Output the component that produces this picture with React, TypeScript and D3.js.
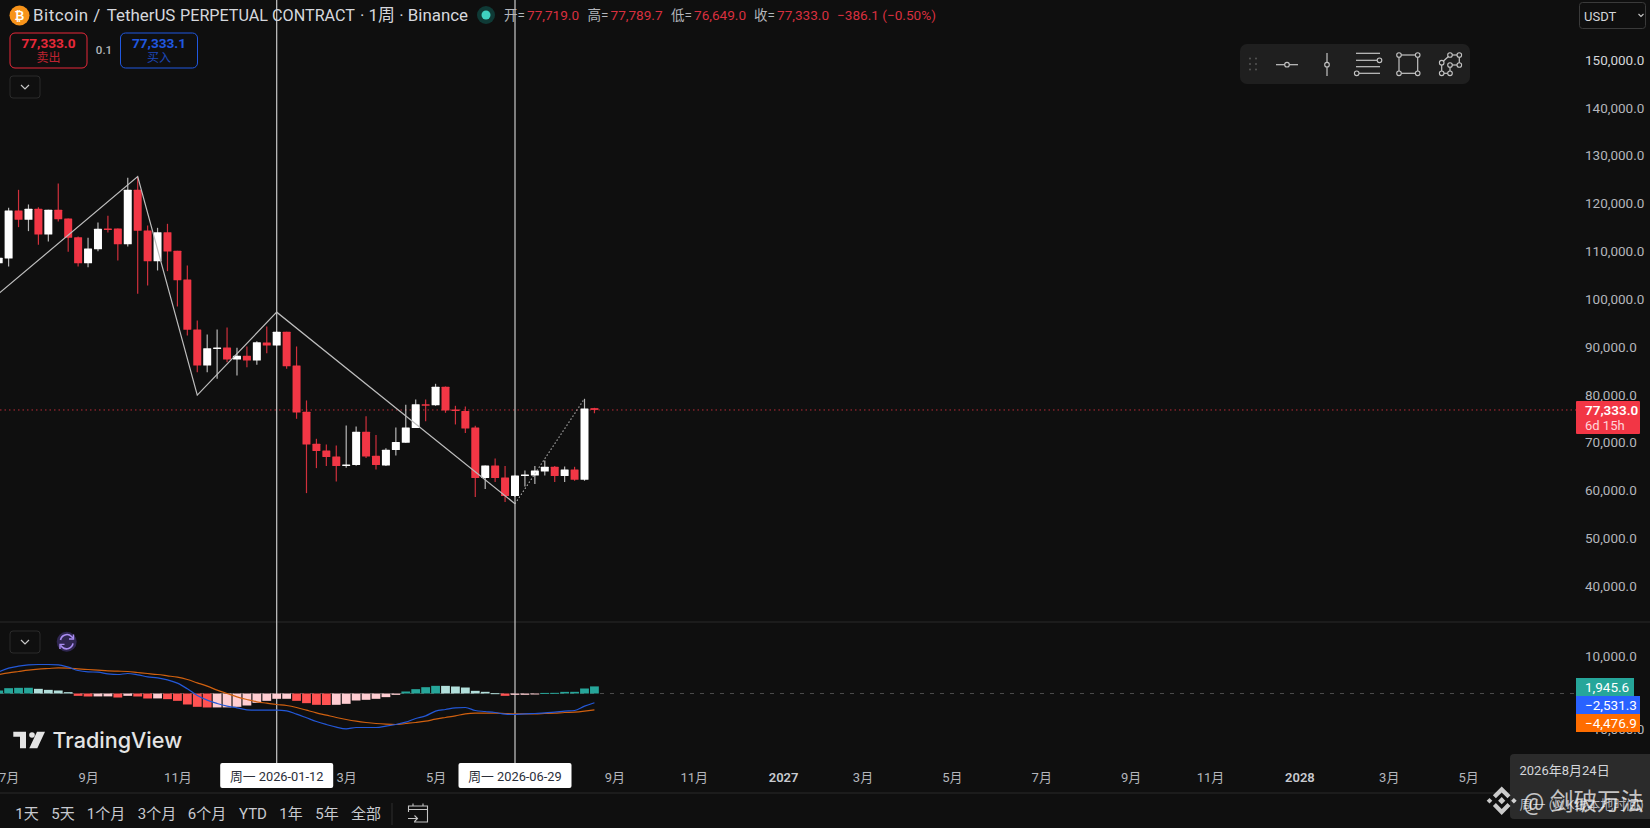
import * as d3 from 'd3'
import { useEffect, useRef } from 'react'

const firstWeek = '2025-06-30'

const opens = [108041, 109016, 119053, 117101, 119401, 114035, 119192, 117380, 113477, 108041, 110968, 115289, 115289, 112013, 123374, 114871, 108459, 114522, 110620, 104625, 94171, 86643, 90198, 90407, 87898, 88664, 87688, 91452, 90824, 93682, 86642, 76954, 70263, 68869, 67614, 65593, 65802, 72772, 67754, 65732, 68939, 70472, 73539, 78557, 78348, 82182, 77442, 77094, 73678, 63084, 65732, 63223, 59320, 63642, 63642, 64478, 65454, 63503, 64896, 62735, 77719]
const highs = [109900, 119611, 123374, 120308, 119750, 119192, 124699, 117380, 113616, 113338, 116544, 117938, 115289, 125884, 126100, 115916, 115429, 116265, 110620, 107553, 96052, 93125, 94171, 94589, 90337, 90616, 91731, 94798, 93752, 93682, 90615, 79324, 71308, 70124, 69914, 74097, 73887, 76048, 72075, 69354, 73678, 78418, 79533, 79533, 82809, 82251, 78209, 78069, 74027, 65732, 67196, 65593, 63642, 64687, 65593, 66778, 65593, 65523, 65454, 79673, 77789.7]
const lows = [107500, 107343, 115568, 114732, 111874, 112571, 116753, 110410, 107343, 107204, 110550, 114453, 108598, 111525, 101628, 103370, 106507, 106367, 98979, 92916, 85249, 85249, 83855, 87340, 84552, 86294, 86782, 89222, 90824, 85945, 75490, 59947, 65175, 65593, 62387, 65245, 65663, 67266, 64896, 65593, 67823, 70472, 73539, 74993, 78209, 76745, 74306, 72493, 59111, 60784, 62247, 58066, 59111, 61341, 61829, 63642, 62247, 62247, 62526, 62526, 76649]
const closes = [109156, 119053, 117101, 119401, 114035, 119192, 117241, 113338, 108041, 111107, 115219, 115010, 112013, 123374, 114801, 108459, 114522, 110480, 104486, 94100, 86643, 90267, 90407, 87898, 88664, 87688, 91522, 90825, 93682, 86503, 76815, 70124, 68730, 67475, 65593, 65942, 72772, 67614, 65802, 69008, 70612, 73678, 78557, 78348, 82182, 77233, 77094, 73469, 63084, 65732, 63084, 59320, 63642, 63851, 64687, 65454, 63503, 64896, 62735, 77651, 77333]

const histogram = [820, 1460, 1550, 1570, 1280, 1000, 820, 370, -640, -820, -800, -790, -1100, -640, -820, -1370, -1350, -1550, -2010, -3010, -3650, -3830, -3820, -3810, -3650, -3290, -2560, -2010, -1460, -1450, -2010, -2650, -3100, -3150, -3100, -2830, -1920, -1730, -1460, -1000, -370, 550, 1190, 1730, 2100, 2090, 1920, 1640, 730, 460, 90, -640, -370, -360, -90, 160, 180, 450, 460, 1370, 1945.6]
const macdLine = [5935, 6940, 7490, 7850, 7940, 7940, 7850, 7210, 6300, 5935, 5840, 5390, 5200, 5480, 5110, 4565, 4290, 3740, 2830, 1280, -550, -1830, -2740, -3470, -3930, -4470, -4570, -4570, -4570, -4750, -5660, -6660, -7670, -8490, -9220, -9680, -9310, -9310, -9310, -8950, -8490, -7850, -6850, -6120, -4840, -4380, -3930, -3830, -4660, -4930, -5200, -5660, -5750, -5570, -5480, -5300, -5110, -4840, -4660, -3470, -2531.3]
const signalLine = [5200, 5660, 6030, 6390, 6660, 6850, 7030, 6940, 6760, 6570, 6390, 6210, 6120, 6030, 5750, 5480, 5200, 4840, 4470, 3830, 2920, 2010, 910, 0, -910, -1640, -2280, -2650, -3010, -3290, -3830, -4570, -5300, -5930, -6570, -7120, -7580, -7940, -8220, -8400, -8490, -8220, -7940, -7580, -7030, -6570, -6120, -5570, -5390, -5390, -5390, -5480, -5570, -5570, -5570, -5480, -5390, -5200, -5110, -4840, -4476.9]

const priceTicks = [150000, 140000, 130000, 120000, 110000, 100000, 90000, 80000, 70000, 60000, 50000, 40000]
const macdTicks = [10000, -10000]

const timeTicks = ['2025-07-07', '2025-09-01', '2025-11-03', '2026-03-02', '2026-05-04', '2026-09-07', '2026-11-02', '2027-01-04', '2027-03-01', '2027-05-03', '2027-07-05', '2027-09-06', '2027-11-01', '2028-01-03', '2028-03-06', '2028-05-01']
const timeLabels = ['7月', '9月', '11月', '3月', '5月', '9月', '11月', '2027', '3月', '5月', '7月', '9月', '11月', '2028', '3月', '5月']

const zigzagDates = ['2025-06-23', '2025-10-06', '2025-11-17', '2026-01-12', '2026-06-29']
const zigzagPrices = [99900, 126160, 80450, 97790, 57720]
const dottedDates = ['2026-06-29', '2026-08-17']
const dottedPrices = [57720, 79700]

const crosshairDates = ['2026-01-12', '2026-06-29']
const crosshairLabels = ['周一 2026-01-12', '周一 2026-06-29']

const ohlcNames = ['开=', '高=', '低=', '收=']
const ohlcValues = ['77,719.0', '77,789.7', '76,649.0', '77,333.0']
const rangeButtons = ['1天', '5天', '1个月', '3个月', '6个月', 'YTD', '1年', '5年', '全部']

const font = 'Roboto, "Noto Sans CJK SC", sans-serif'
const bg = '#0f0f0f'
const red = '#f23645'

export default function App() {
    const svgRef = useRef<SVGSVGElement>(null)

    useEffect(() => {
        makeChart()
    }, [])

    function makeChart() {
        const width = 1650
        const height = 828
        const parse = d3.utcParse('%Y-%m-%d')

        const svg = d3.select(svgRef.current)
            .attr('width', width).attr('height', height)
            .style('position', 'fixed').style('left', 0).style('top', 0)
            .style('background', bg).style('font-family', font)
        svg.selectAll('*').remove()

        const x = d3.scaleUtc()
            .domain([parse('2026-01-12')!, parse('2026-06-29')!])
            .range([276.7, 515])
        const y = d3.scaleLinear().domain([40000, 150000]).range([588.5, 62.5])
        const yMacd = d3.scaleLinear().domain([-10000, 10000]).range([730, 657])
        const weeks = closes.map((_, i) => d3.utcWeek.offset(parse(firstWeek)!, i))
        const barX = (i: number) => x(weeks[i])

        const text = (px: number, py: number, s: string, size: number, fill: string, weight = 400, anchor = 'start') =>
            svg.append('text').attr('x', px).attr('y', py).attr('dy', '0.35em')
                .attr('font-size', size).attr('fill', fill).attr('font-weight', weight)
                .attr('text-anchor', anchor).text(s)

        // pane separators
        svg.append('line').attr('x1', 0).attr('x2', width).attr('y1', 622).attr('y2', 622).attr('stroke', '#2a2a2a')
        svg.append('line').attr('x1', 0).attr('x2', width).attr('y1', 793).attr('y2', 793).attr('stroke', '#2a2a2a')

        // last price line
        svg.append('line').attr('x1', 0).attr('x2', 1576).attr('y1', y(77333)).attr('y2', y(77333))
            .attr('stroke', red).attr('stroke-width', 1).attr('stroke-dasharray', '1.5 3').attr('opacity', 0.75)

        // zero line of the macd pane
        svg.append('line').attr('x1', 0).attr('x2', 1576).attr('y1', yMacd(0)).attr('y2', yMacd(0))
            .attr('stroke', '#4a4a4a').attr('stroke-dasharray', '4 6')

        // crosshair lines
        const crossX = crosshairDates.map(d => x(parse(d)!))
        svg.append('g').selectAll('line').data(crossX).enter().append('line')
            .attr('x1', d => d).attr('x2', d => d).attr('y1', 0).attr('y2', 763)
            .attr('stroke', '#c9c9c9').attr('stroke-width', 1.2)

        // candles
        const candles = svg.append('g')
        closes.forEach((c, i) => {
            const o = opens[i]
            const col = c >= o ? '#ffffff' : red
            candles.append('line').attr('x1', barX(i)).attr('x2', barX(i))
                .attr('y1', y(highs[i])).attr('y2', y(lows[i]))
                .attr('stroke', col).attr('stroke-width', 1.2).attr('opacity', c >= o ? 0.7 : 0.85)
            if (i === closes.length - 1) return
            candles.append('rect').attr('x', barX(i) - 4).attr('width', 8)
                .attr('y', y(Math.max(o, c)))
                .attr('height', Math.max(1.5, Math.abs(y(o) - y(c))))
                .attr('fill', col).attr('rx', 0.5)
        })
        const lastBar = closes.length - 1
        candles.append('rect').attr('x', barX(lastBar) - 4).attr('width', 8)
            .attr('y', y(opens[lastBar])).attr('height', 1.8).attr('fill', red)

        // zigzag drawing
        const priceLine = d3.line<[Date, number]>().x(d => x(d[0])).y(d => y(d[1]))
        svg.append('path')
            .attr('d', priceLine(zigzagDates.map((d, i) => [parse(d)!, zigzagPrices[i]] as [Date, number])))
            .attr('fill', 'none').attr('stroke', '#bdbdbd').attr('stroke-width', 1.2)
        svg.append('path')
            .attr('d', priceLine(dottedDates.map((d, i) => [parse(d)!, dottedPrices[i]] as [Date, number])))
            .attr('fill', 'none').attr('stroke', '#bdbdbd').attr('stroke-width', 1.1).attr('stroke-dasharray', '1.4 2.2')

        // macd histogram
        const histCol = (v: number, i: number) => {
            const prev = i > 0 ? histogram[i - 1] : 0
            if (v >= 0) return v >= prev ? '#26a69a' : '#b2dfdb'
            return v <= prev ? '#ff5252' : '#ffcdd2'
        }
        svg.append('g').selectAll('rect').data(histogram).enter().append('rect')
            .attr('x', (_, i) => barX(i) - 4.4).attr('width', 8.8)
            .attr('y', d => yMacd(Math.max(0, d)))
            .attr('height', d => Math.max(1, Math.abs(yMacd(d) - yMacd(0))))
            .attr('fill', (d, i) => histCol(d, i))

        const macdPath = d3.line<number>().x((_, i) => barX(i)).y(d => yMacd(d)).curve(d3.curveMonotoneX)
        svg.append('path').attr('d', macdPath(signalLine)).attr('fill', 'none').attr('stroke', '#d0600f').attr('stroke-width', 1.2)
        svg.append('path').attr('d', macdPath(macdLine)).attr('fill', 'none').attr('stroke', '#2358d8').attr('stroke-width', 1.2)

        // watermark
        const logo = svg.append('g').attr('fill', '#e4e4e4')
        logo.append('path').attr('d', 'M13.3 731.7H26V748.3H20V736.7H13.3Z')
        logo.append('circle').attr('cx', 32).attr('cy', 735).attr('r', 2.8)
        logo.append('path').attr('d', 'M37 731.7H45L37.3 748.3H29.3Z')
        text(52.5, 740.5, 'TradingView', 21.6, '#e4e4e4', 500).attr('font-family', 'Inter, sans-serif')

        // right axes
        const priceAxis = d3.axisRight(y).tickValues(priceTicks).tickFormat(d3.format(',.1f') as any).tickSize(0).tickPadding(0)
        const macdAxis = d3.axisRight(yMacd).tickValues(macdTicks)
            .tickFormat((d: any) => d3.format(',.1f')(d).replace('-', '−')).tickSize(0).tickPadding(0)
        const priceG = svg.append('g').attr('transform', 'translate(1585,-2.5)').call(priceAxis as any)
        const macdG = svg.append('g').attr('transform', 'translate(1585,-0.5)').call(macdAxis as any)
        ;[priceG, macdG].forEach(g => {
            g.select('.domain').remove()
            g.selectAll('text').attr('fill', '#b4b6bc').attr('font-size', 13.5).attr('font-family', font)
        })
        priceG.selectAll('text').filter(function () { return d3.select(this).text() === '150,000.0' }).attr('fill', '#d4d6da')

        // time axis
        const timeAxis = d3.axisBottom(x).tickValues(timeTicks.map(d => parse(d)!))
            .tickFormat((_, i) => timeLabels[i]).tickSize(0).tickPadding(0)
        const tg = svg.append('g').attr('transform', 'translate(0,773)').call(timeAxis)
        tg.select('.domain').remove()
        tg.selectAll('text').attr('fill', '#b4b6bc').attr('font-size', 13).attr('font-family', font)
        tg.selectAll('text').filter(function () { return /^20/.test(d3.select(this).text()) }).attr('font-weight', 600).attr('fill', '#c8cad0')

        // crosshair date labels
        crossX.forEach((cx, i) => {
            svg.append('rect').attr('x', cx - 56.5).attr('y', 763).attr('width', 113).attr('height', 25).attr('rx', 2).attr('fill', '#fff')
            text(cx, 777, crosshairLabels[i], 12.8, '#2a2e39', 400, 'middle')
        })

        // price tags
        svg.append('rect').attr('x', 1576).attr('y', 401).attr('width', 64).attr('height', 33).attr('rx', 1).attr('fill', red)
        text(1585, 410, '77,333.0', 13.5, '#fff', 600)
        text(1585, 425, '6d 15h', 13, '#ffd5d9')
        const tags = [
            { s: '1,945.6', top: 678, w: 58, fill: '#26a69a' },
            { s: '−2,531.3', top: 696, w: 64, fill: '#2962ff' },
            { s: '−4,476.9', top: 714, w: 64, fill: '#ff6d00' },
        ]
        tags.forEach(t => {
            svg.append('rect').attr('x', 1576).attr('y', t.top).attr('width', t.w).attr('height', 18).attr('fill', t.fill)
            text(1585, t.top + 9, t.s, 13.5, '#fff')
        })

        // legend row
        svg.append('circle').attr('cx', 19.5).attr('cy', 15.5).attr('r', 10).attr('fill', '#f7931a')
        text(19.5, 15.5, '₿', 12, '#fff', 700, 'middle')
        text(33, 15.5, 'Bitcoin / ', 16.9, '#d6d8dd').attr('xml:space', 'preserve').attr('textLength', 72).attr('lengthAdjust', 'spacing')
        text(106.7, 15.5, 'TetherUS', 16.9, '#d6d8dd')
        text(180, 15.5, 'PERPETUAL CONTRACT', 16.4, '#d6d8dd').attr('textLength', 175).attr('lengthAdjust', 'spacingAndGlyphs')
        text(360, 15.5, '· 1周 · Binance', 16.9, '#d6d8dd')
        svg.append('circle').attr('cx', 486).attr('cy', 15).attr('r', 9).attr('fill', '#0f3a36')
        svg.append('circle').attr('cx', 486).attr('cy', 15).attr('r', 4.5).attr('fill', '#3fd0c0')
        const ohlcX = [504, 587.5, 671, 754]
        ohlcNames.forEach((n, i) => {
            text(ohlcX[i], 15, n, 13.5, '#b4b6bc')
            text(ohlcX[i] + 23, 15, ohlcValues[i], 13.6, '#d8303f')
        })
        text(837, 15, '−386.1 (−0.50%)', 13.6, '#d8303f')

        // buy / sell buttons
        const button = (bx: number, w: number, col: string, top: string, sub: string) => {
            svg.append('rect').attr('x', bx).attr('y', 33).attr('width', w).attr('height', 35).attr('rx', 5)
                .attr('fill', 'none').attr('stroke', col).attr('stroke-width', 1)
            text(bx + w / 2, 43, top, 13.6, col, 700, 'middle')
            text(bx + w / 2, 58, sub, 12, col, 400, 'middle').attr('opacity', 0.8)
        }
        button(10, 77, '#e8293a', '77,333.0', '卖出')
        button(120.5, 77, '#2058e0', '77,333.1', '买入')
        text(104, 50, '0.1', 11.5, '#b4b6bc', 500, 'middle')

        // collapse buttons
        const chevron = (cx: number, cy: number, size: number) =>
            svg.append('path').attr('d', `M${cx - size} ${cy - size / 2}L${cx} ${cy + size / 2}L${cx + size} ${cy - size / 2}`)
                .attr('fill', 'none').attr('stroke', '#c8c8c8').attr('stroke-width', 1.2)
        ;[76, 631].forEach(by => {
            svg.append('rect').attr('x', 10).attr('y', by).attr('width', 30).attr('height', 22).attr('rx', 3)
                .attr('fill', 'none').attr('stroke', '#2b2b2b')
            chevron(25, by + 11, 4)
        })

        // refresh icon
        svg.append('circle').attr('cx', 66.7).attr('cy', 641.7).attr('r', 10).attr('fill', '#2f2650')
        svg.append('path').attr('d', 'M60.5 640a6.5 6.5 0 0 1 11-3.5l1.5 1.5M73 643.4a6.5 6.5 0 0 1-11 3.5l-1.5-1.5')
            .attr('fill', 'none').attr('stroke', '#a98cf0').attr('stroke-width', 1.6)
        svg.append('path').attr('d', 'M73.5 634.5v4.5h-4.5M60 648.9v-4.5h4.5').attr('fill', 'none').attr('stroke', '#a98cf0').attr('stroke-width', 1.4)

        // USDT select
        svg.append('rect').attr('x', 1579.5).attr('y', 2.5).attr('width', 66).attr('height', 26).attr('rx', 3)
            .attr('fill', 'none').attr('stroke', '#3a3a3a')
        text(1584, 16, 'USDT', 13, '#d4d6da')
        svg.append('path').attr('d', 'M1638.5 14l2.5 2.5 2.5-2.5').attr('fill', 'none').attr('stroke', '#c8c8c8').attr('stroke-width', 1.1)

        // drawing palette
        const pal = svg.append('g')
        pal.append('rect').attr('x', 1240).attr('y', 44).attr('width', 230).attr('height', 40).attr('rx', 7).attr('fill', '#1f1f1f')
        ;[1250, 1256].forEach(gx => [58.5, 64, 69.5].forEach(gy =>
            pal.append('circle').attr('cx', gx).attr('cy', gy).attr('r', 1).attr('fill', '#555')))
        const seg = (x1: number, y1: number, x2: number, y2: number) =>
            pal.append('line').attr('x1', x1).attr('y1', y1).attr('x2', x2).attr('y2', y2).attr('stroke', '#c4c4c4').attr('stroke-width', 1.2)
        const dot = (cx: number, cy: number) =>
            pal.append('circle').attr('cx', cx).attr('cy', cy).attr('r', 2.3).attr('fill', '#1f1f1f').attr('stroke', '#c4c4c4').attr('stroke-width', 1.1)
        seg(1276, 64.7, 1298, 64.7); dot(1287, 64.7)
        seg(1327, 53, 1327, 76); dot(1327, 64.7)
        seg(1356, 53.3, 1380, 53.3); seg(1356, 60.3, 1377, 60.3); seg(1356, 66.7, 1380, 66.7); seg(1359, 73.3, 1380, 73.3)
        dot(1379.5, 60.3); dot(1356.7, 73.3)
        seg(1399, 55, 1417.7, 55); seg(1417.7, 55, 1417.7, 73.3); seg(1417.7, 73.3, 1399, 73.3); seg(1399, 73.3, 1399, 55)
        dot(1399, 55); dot(1417.7, 55); dot(1417.7, 73.3); dot(1399, 73.3)
        seg(1441.7, 62.7, 1450, 55); seg(1450, 55, 1459.3, 55); seg(1459.3, 55, 1459.3, 65); seg(1459.3, 65, 1450, 65)
        seg(1450, 65, 1450, 73.3); seg(1450, 73.3, 1441.7, 73.3); seg(1441.7, 73.3, 1441.7, 62.7)
        dot(1450, 55); dot(1459.3, 55); dot(1441.7, 62.7); dot(1459.3, 65); dot(1450, 65); dot(1441.7, 73.3); dot(1450, 73.3)

        // bottom toolbar
        const rangeX = [27, 63, 106, 157, 207, 253, 291, 327, 366]
        rangeButtons.forEach((b, i) => {
            text(rangeX[i], 814, b, 15, '#c8cad0', 400, 'middle')
        })
        svg.append('line').attr('x1', 392).attr('x2', 392).attr('y1', 803).attr('y2', 825).attr('stroke', '#2e2e2e')
        svg.append('path').attr('d', 'M408.5 812V806H427.5V822H414M408.5 809.5H427.5M413 803.5V806M423 803.5V806M408 818.5H417M414.5 815.5L417.5 818.5L414.5 821.5')
            .attr('fill', 'none').attr('stroke', '#c4c4c4').attr('stroke-width', 1.1)

        // date tooltip
        svg.append('rect').attr('x', 1510).attr('y', 754).attr('width', 145).attr('height', 65).attr('rx', 4).attr('fill', '#2b2b2b')
        text(1519.5, 770, '2026年8月24日', 13, '#d4d6da')
        text(1519.5, 804, '周一 (以K线本地时间)', 13, '#b4b6bc')

        // repost mark
        const wm = svg.append('g').attr('fill', '#fff').attr('opacity', 0.78)
        const mark = (cx: number, cy: number, r: number) =>
            wm.append('path').attr('d', `M${cx} ${cy - r}L${cx + r} ${cy}L${cx} ${cy + r}L${cx - r} ${cy}Z`)
        mark(1501.7, 800.7, 3.6); mark(1489.5, 800.7, 2.8); mark(1513.9, 800.7, 2.8)
        wm.append('path').attr('d', 'M1501.7 786.5L1510.5 795.3L1507.5 798.3L1501.7 792.5L1495.9 798.3L1492.9 795.3Z')
        wm.append('path').attr('d', 'M1501.7 814.9L1510.5 806.1L1507.5 803.1L1501.7 808.9L1495.9 803.1L1492.9 806.1Z')
        text(1523, 802, '@ 剑破万法', 23.5, '#fff', 400).attr('opacity', 0.72)
    }

    return (
        <svg ref={svgRef}></svg>
    )
}
